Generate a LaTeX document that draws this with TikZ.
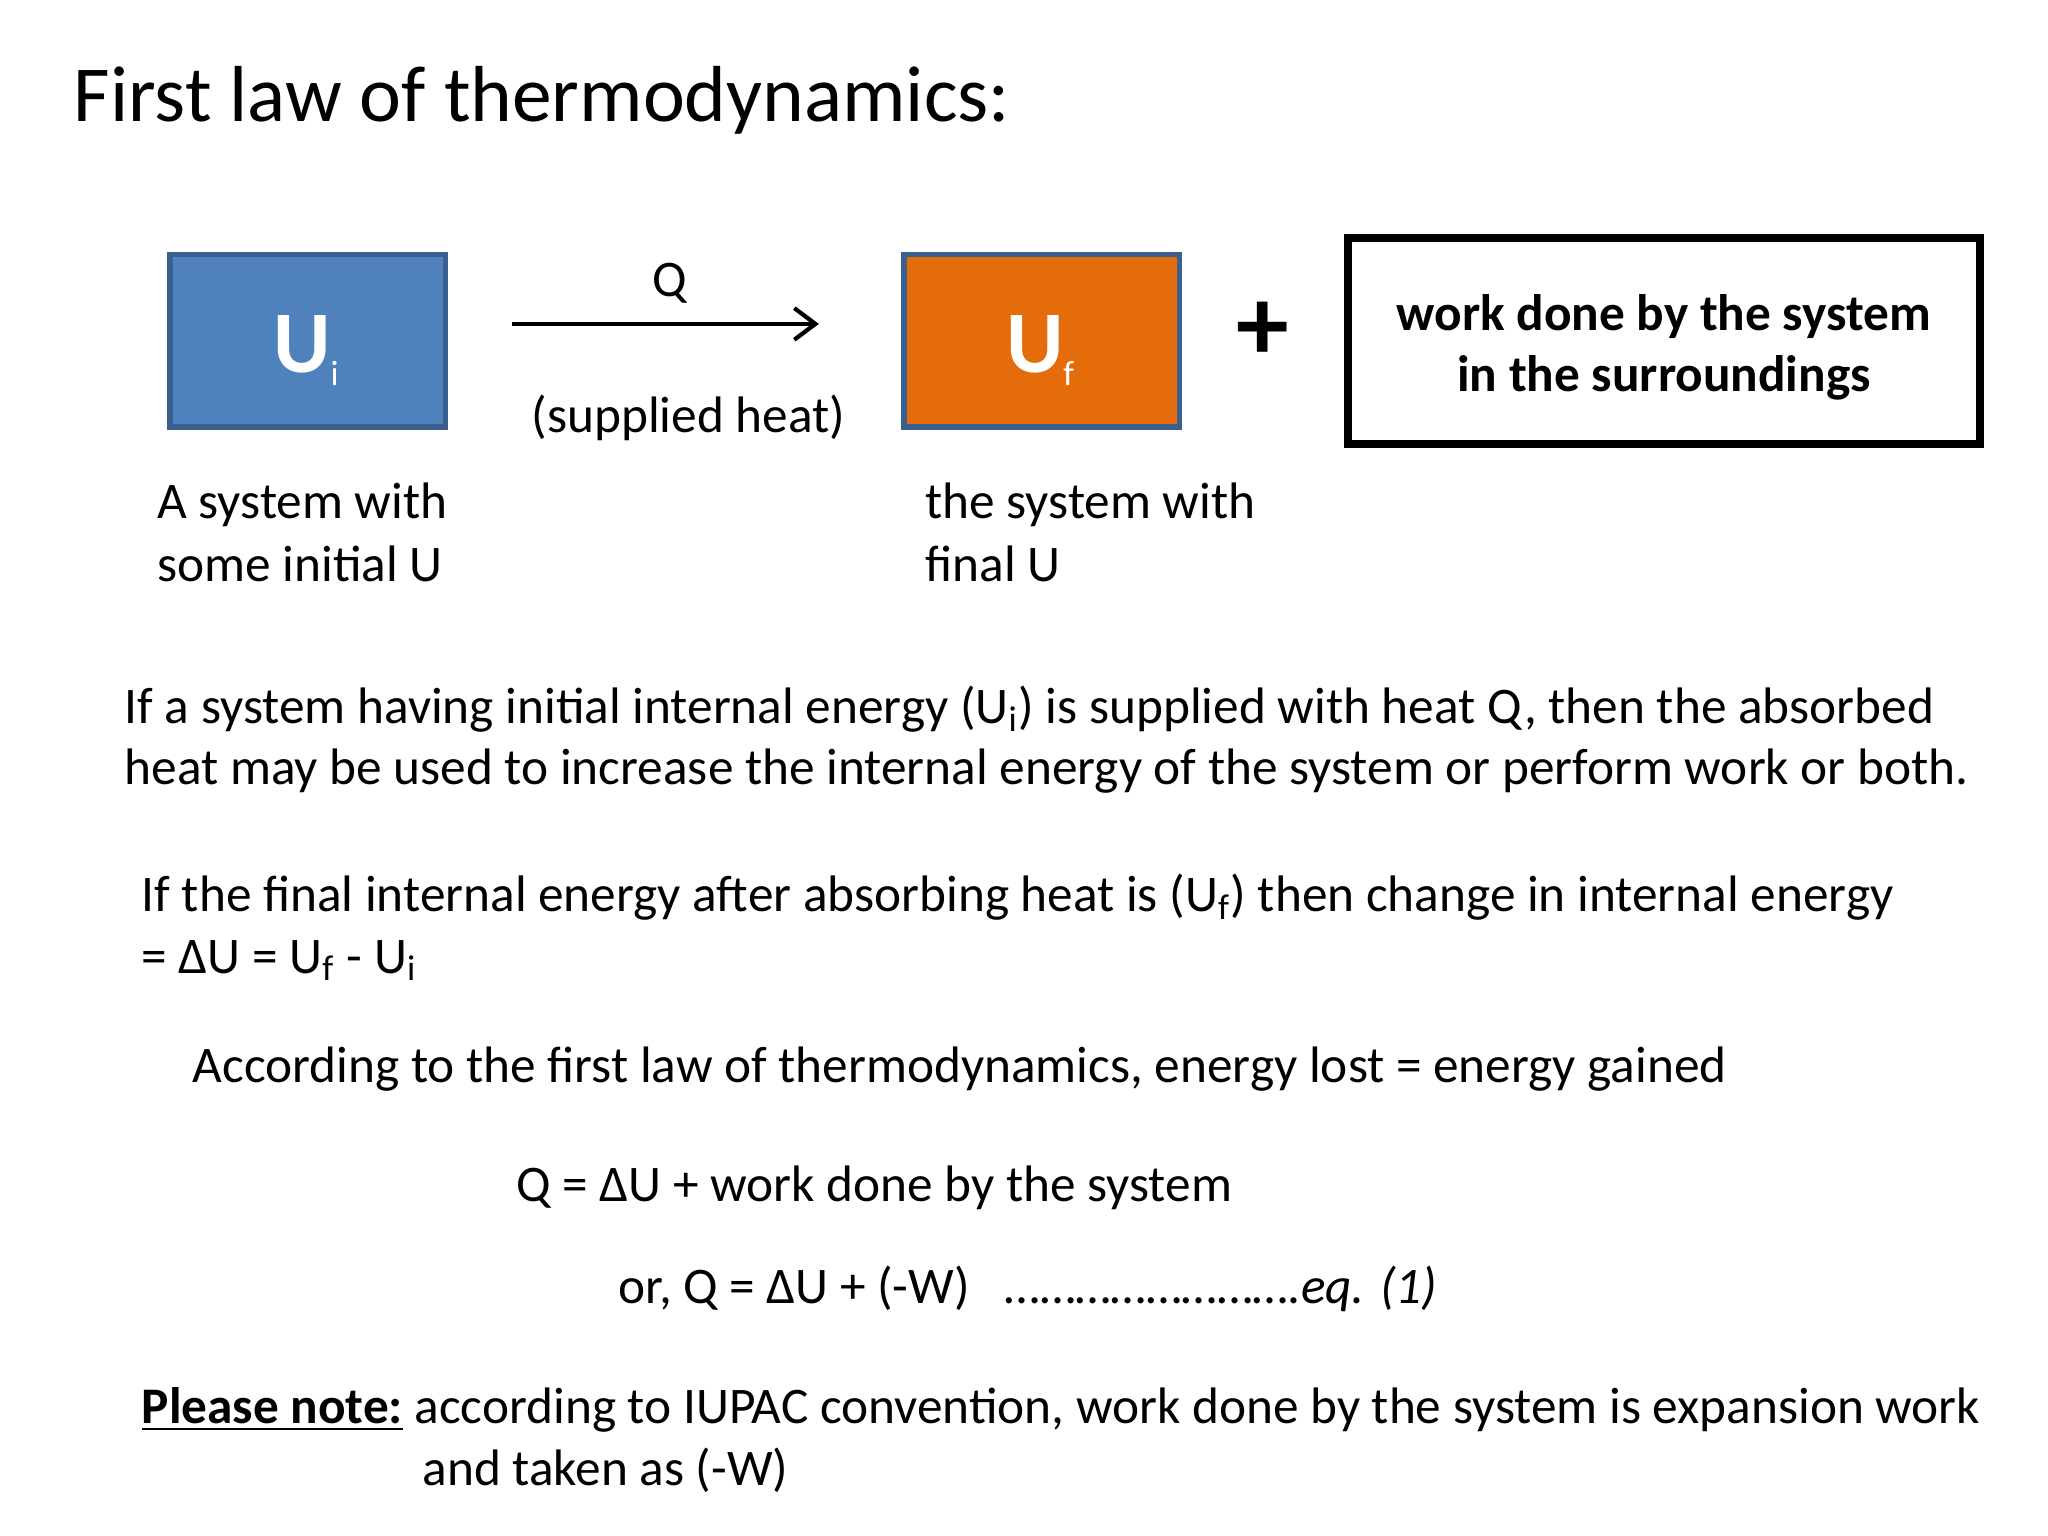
\documentclass[tikz,border=0pt]{standalone}
\usepackage{fontspec}
\usetikzlibrary{arrows.meta}
\setmainfont{Carlito}
\begin{document}
\begin{tikzpicture}[x=0.01306cm,y=-0.01306cm,
  txt/.style={anchor=base west,inner sep=0pt,font=\fontsize{14.6}{18}\selectfont}]
\useasboundingbox (0,0) rectangle (1568,1176);
\fill[white] (0,0) rectangle (1568,1176);
\node[anchor=base west,inner sep=0pt,font=\fontsize{22.6}{26}\selectfont] (title) at (56,93) {First law of thermodynamics:};
\filldraw[fill={rgb,255:red,79;green,129;blue,189},draw={rgb,255:red,59;green,95;blue,143},line width=1.6pt] (130,195) rectangle (341,327);
\node[anchor=base,text=white,font=\fontsize{25}{28}\bfseries\selectfont,inner sep=0pt] (uit) at (235,285) {U\textsubscript{\normalfont\fontsize{10}{12}\selectfont i}};
\filldraw[fill={rgb,255:red,228;green,108;blue,10},draw={rgb,255:red,59;green,95;blue,143},line width=1.6pt] (692,195) rectangle (903,327);
\node[anchor=base,text=white,font=\fontsize{25}{28}\bfseries\selectfont,inner sep=0pt] (uft) at (797,285) {U\textsubscript{\normalfont\fontsize{10}{12}\selectfont f}};
\coordinate (a1) at (392,248); \coordinate (a2) at (627,248);
\draw[line width=1.2pt,-{Straight Barb[length=6pt,width=9pt]}] (a1) -- (a2);
\node[txt,anchor=base] (q) at (513,227) {Q};
\node[txt,anchor=base] (sh) at (527,331) {(supplied heat)};
\node[font=\fontsize{30}{30}\bfseries\selectfont,inner sep=0pt] (plus) at (967,254) {+};
\draw[line width=2.2pt] (1032,182) rectangle (1516,340);
\node[align=center,font=\fontsize{14.6}{17.4}\bfseries\selectfont,inner sep=0pt] (work) at (1274,266) {work done by the system\\in the surroundings};
\node[txt] (l1) at (120,397) {A system with};
\node[txt] (l2) at (120,445) {some initial U};
\node[txt] (r1) at (708,397) {the system with};
\node[txt] (r2) at (708,445) {final U};
\node[txt] (p1) at (95,554) {If a system having initial internal energy (U\textsubscript{i}) is supplied with heat Q, then the absorbed};
\node[txt] (p1b) at (95,601) {heat may be used to increase the internal energy of the system or perform work or both.};
\node[txt] (p2) at (108,698) {If the final internal energy after absorbing heat is (U\textsubscript{f}) then change in internal energy};
\node[txt] (p2b) at (108,745) {= ΔU = U\textsubscript{f} - U\textsubscript{i}};
\node[txt] (p3) at (147,829) {According to the first law of thermodynamics, energy lost = energy gained};
\node[txt] (e1) at (395,920) {Q = ΔU + work done by the system};
\node[txt] (e2) at (473,998) {or, Q = ΔU + (-W) \ \ …………………….\textit{eq. (1)}};
\node[txt] (n1) at (108,1090) {\textbf{\underline{Please note:}} according to IUPAC convention, work done by the system is expansion work};
\node[txt] (n2) at (323,1137) {and taken as (-W)};
\end{tikzpicture}
\end{document}
